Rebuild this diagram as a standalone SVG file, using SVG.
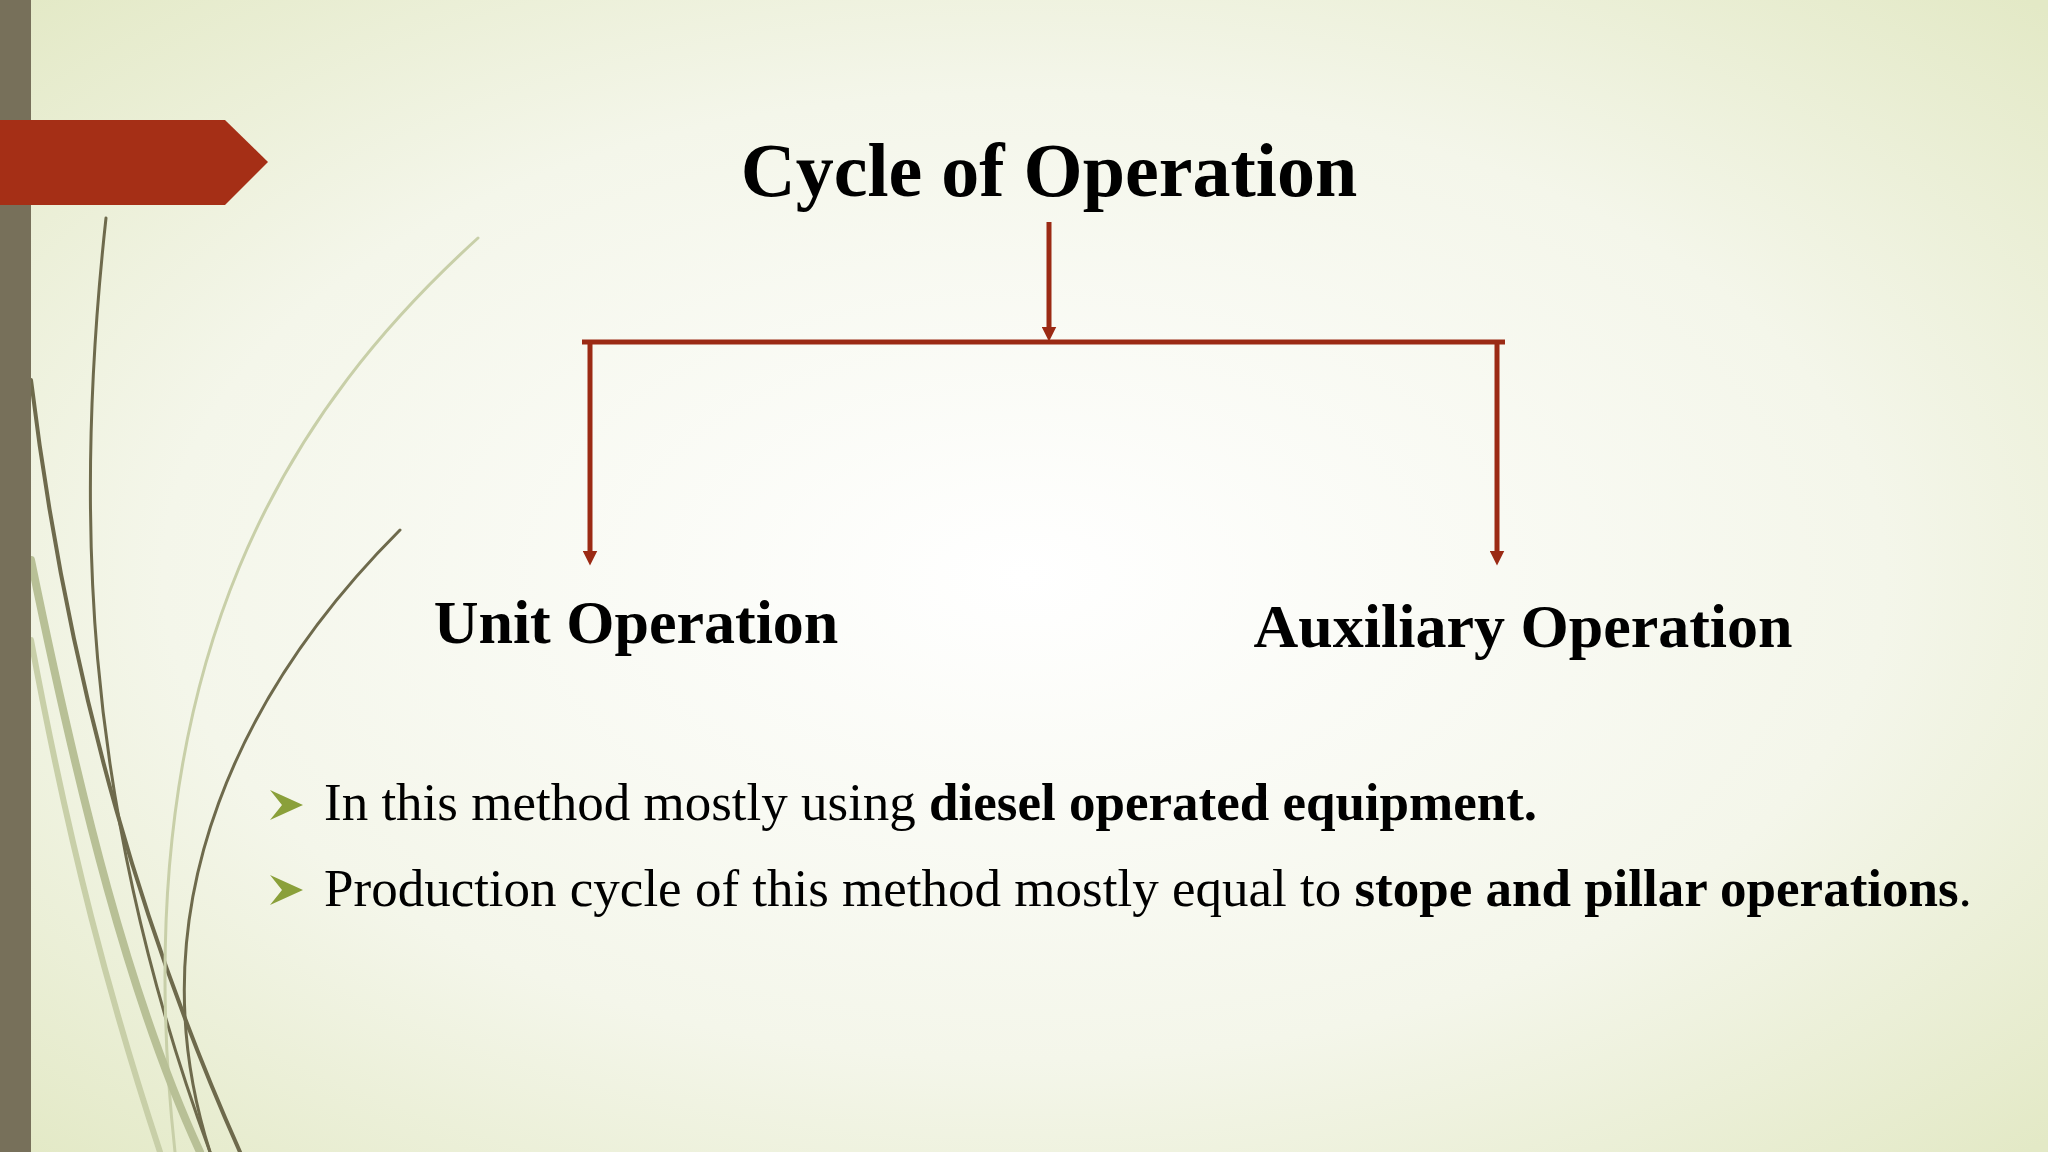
<svg xmlns="http://www.w3.org/2000/svg" width="2048" height="1152" viewBox="0 0 2048 1152">
<defs>
<radialGradient id="bg" cx="0.5" cy="0.5" r="0.7">
<stop offset="0" stop-color="#ffffff"/><stop offset="0.6" stop-color="#f4f6ea"/><stop offset="1" stop-color="#e3e9c6"/>
</radialGradient>
<marker id="ah" viewBox="0 0 10 10" refX="5" refY="5" markerWidth="3" markerHeight="3" orient="auto"><path d="M0,0 L10,5 L0,10 z" fill="#9b2a14"/></marker>
<style>
.t{font-family:"Liberation Serif",serif;fill:#000}
.c{stroke:#9b2a14;stroke-width:5;fill:none}
.g{fill:none;stroke-linecap:round}
</style>
</defs>
<rect width="2048" height="1152" fill="url(#bg)"/>
<g id="deco">
<path class="g" d="M31,380 C70,700 150,950 240,1152" stroke="#6e6a4c" stroke-width="4"/>
<path class="g" d="M106,218 C75,500 80,800 210,1152" stroke="#6e6a4c" stroke-width="3"/>
<path class="g" d="M478,238 C300,400 120,650 175,1152" stroke="#c8cfa8" stroke-width="3"/>
<path class="g" d="M400,530 C250,680 130,900 210,1152" stroke="#6e6a4c" stroke-width="3"/>
<path class="g" d="M31,560 C80,800 130,1000 200,1152" stroke="#b8c096" stroke-width="8"/>
<path class="g" d="M31,640 C70,850 110,1000 160,1152" stroke="#c8cfa8" stroke-width="6"/>
<rect x="0" y="0" width="31" height="1152" fill="#77705a"/>
<path d="M0,120 L225,120 L268,162 L225,205 L0,205 z" fill="#a52f16"/>
</g>
<g id="title"><text class="t" x="1049" y="196" font-size="76" font-weight="bold" text-anchor="middle">Cycle of Operation</text></g>
<g id="connectors">
<line class="c" x1="1049" y1="222" x2="1049" y2="334" marker-end="url(#ah)"/>
<line class="c" x1="582" y1="342" x2="1505" y2="342"/>
<line class="c" x1="590" y1="340" x2="590" y2="558" marker-end="url(#ah)"/>
<line class="c" x1="1497" y1="340" x2="1497" y2="558" marker-end="url(#ah)"/>
</g>
<g id="unit"><text class="t" x="636" y="643" font-size="62" font-weight="bold" text-anchor="middle">Unit Operation</text></g>
<g id="aux"><text class="t" x="1523" y="647" font-size="62" font-weight="bold" text-anchor="middle">Auxiliary Operation</text></g>
<g id="bullets">
<path d="M270,790 L303,805 L270,820 L282,805 z" fill="#8aa03a"/>
<path d="M270,875 L303,890 L270,905 L282,890 z" fill="#8aa03a"/>
<text class="t" x="324" y="820" font-size="53">In this method mostly using <tspan font-weight="bold">diesel operated equipment.</tspan></text>
<text class="t" x="324" y="906" font-size="53">Production cycle of this method mostly equal to <tspan font-weight="bold">stope and pillar operations</tspan>.</text>
</g>
</svg>
